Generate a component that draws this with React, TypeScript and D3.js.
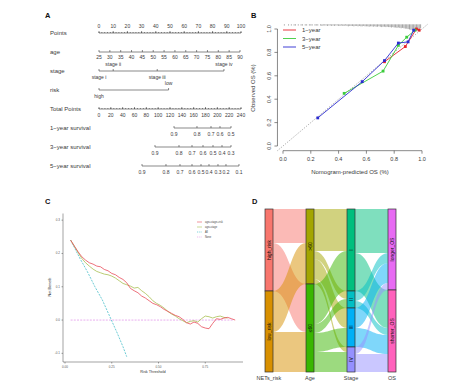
import React, { useEffect, useRef } from 'react';
import * as d3 from 'd3';

// ---------- A: nomogram ----------
const nomoRows = ['Points', 'age', 'stage', 'risk', 'Total Points', '1\u2212year survival', '3\u2212year survival', '5\u2212year survival'];
const pointTicks = [0, 10, 20, 30, 40, 50, 60, 70, 80, 90, 100];
const ageTicks = [25, 30, 35, 40, 45, 50, 55, 60, 65, 70, 75, 80, 85, 90];
const stageLevels = ['stage i', 'stage ii', 'stage iii', 'stage iv'];
const stagePoints = [0, 10, 41, 88];
const riskLevels = ['high', 'low'];
const riskPoints = [0, 49];
const totalTicks = [0, 20, 40, 60, 80, 100, 120, 140, 160, 180, 200, 220, 240];
const surv1Labels = ['0.9', '0.8', '0.7', '0.6', '0.5'];
const surv1Total = [126.8, 165.6, 189.3, 204.5, 223.1];
const surv3Labels = ['0.9', '0.8', '0.7', '0.6', '0.5', '0.4', '0.3'];
const surv3Total = [94.6, 135.2, 157.2, 175.8, 192.7, 207.9, 223.1];
const surv5Labels = ['0.9', '0.8', '0.7', '0.6', '0.5', '0.4', '0.3', '0.2', '0.1'];
const surv5Total = [72.7, 113.2, 136.9, 157.2, 172.4, 185.9, 201.1, 214.6, 236.6];

// ---------- B: calibration ----------
const calTicks = [0, 0.2, 0.4, 0.6, 0.8, 1.0];
const cal1Pred = [0.73, 0.88, 0.96, 0.98];
const cal1Obs = [0.72, 0.85, 1.0, 0.99];
const cal3Pred = [0.44, 0.72, 0.83, 0.89, 0.95];
const cal3Obs = [0.45, 0.64, 0.86, 0.93, 0.99];
const cal5Pred = [0.25, 0.57, 0.73, 0.83, 0.9, 0.94];
const cal5Obs = [0.24, 0.55, 0.73, 0.88, 0.89, 0.99];
const calLegend = ['1\u2212year', '3\u2212year', '5\u2212year'];
// counts of predictions per 0.01 bin, 0.01 .. 0.99
const rugCounts = [
  1, 0, 0, 1, 0, 1, 0, 1, 1, 0, 1, 0, 1, 1, 0, 1, 1, 0, 1, 1,
  1, 0, 1, 1, 1, 0, 1, 2, 1, 1, 1, 2, 1, 1, 2, 1, 2, 1, 1, 2,
  2, 1, 2, 2, 1, 2, 3, 2, 2, 2, 3, 2, 2, 3, 2, 3, 3, 2, 3, 3,
  3, 4, 3, 3, 4, 3, 4, 4, 3, 4, 5, 4, 4, 5, 4, 5, 5, 6, 5, 6,
  6, 7, 6, 7, 8, 7, 8, 9, 9, 10, 11, 12, 12, 13, 14, 14, 13, 11, 8];

// ---------- C: decision curve ----------
const dcaYTicks = [-0.1, 0.0, 0.1, 0.2, 0.3];
const dcaXTicks = [0, 0.25, 0.5, 0.75];
const dcaThreshold = [0.03, 0.05, 0.07, 0.09, 0.11, 0.13, 0.15, 0.17, 0.19, 0.21, 0.23, 0.25, 0.27, 0.29, 0.31, 0.33, 0.35, 0.37, 0.39, 0.41, 0.43, 0.45, 0.47, 0.49, 0.51, 0.53, 0.55, 0.57, 0.59, 0.61, 0.63, 0.65, 0.67, 0.69, 0.71, 0.73, 0.75, 0.77, 0.79, 0.81, 0.83, 0.85, 0.87, 0.89, 0.91];
const nbFull = [0.24, 0.222, 0.205, 0.19, 0.18, 0.172, 0.168, 0.162, 0.16, 0.152, 0.148, 0.14, 0.136, 0.128, 0.122, 0.112, 0.095, 0.088, 0.082, 0.072, 0.066, 0.058, 0.05, 0.046, 0.04, 0.032, 0.026, 0.02, 0.014, 0.01, 0.002, -0.008, -0.012, -0.006, -0.01, -0.02, -0.024, -0.026, -0.01, 0.004, 0.002, 0.006, 0.008, 0.004, 0.0];
const nbAgeStage = [0.24, 0.222, 0.203, 0.185, 0.172, 0.162, 0.153, 0.146, 0.142, 0.138, 0.136, 0.132, 0.126, 0.118, 0.11, 0.106, 0.102, 0.096, 0.098, 0.088, 0.08, 0.07, 0.058, 0.05, 0.044, 0.036, 0.026, 0.018, 0.012, 0.004, -0.002, -0.008, -0.004, -0.002, -0.006, 0.004, 0.012, 0.01, 0.006, 0.01, 0.012, 0.008, 0.006];
const allThreshold = [0.03, 0.08, 0.12, 0.16, 0.2, 0.24, 0.28, 0.31, 0.33];
const nbAll = [0.24, 0.185, 0.145, 0.1, 0.06, 0.01, -0.04, -0.08, -0.11];
const noneThreshold = [0.03, 0.9];
const nbNone = [0, 0];
const dcaLegend = ['age+stage+risk', 'age+stage', 'All', 'None'];

// ---------- D: alluvial ----------
const alluvAxes = ['NETs_risk', 'Age', 'Stage', 'OS'];
const alluvStrata = [['high_risk', 'low_risk'], ['>60', '\u226460'], ['I', 'II', 'III', 'IV'], ['longer_OS', 'shorter_OS']];
const flowRiskAge: [string, string, number][] = [['high_risk', '>60', 34], ['high_risk', '\u226460', 48], ['low_risk', '>60', 41], ['low_risk', '\u226460', 40]];
const flowAgeStage: [string, string, number][] = [['>60', 'I', 42], ['>60', 'II', 8], ['>60', 'III', 20], ['>60', 'IV', 5], ['\u226460', 'I', 40], ['\u226460', 'II', 9], ['\u226460', 'III', 19], ['\u226460', 'IV', 20]];
const flowStageOS: [string, string, number][] = [['I', 'longer_OS', 44], ['I', 'shorter_OS', 38], ['II', 'longer_OS', 10], ['II', 'shorter_OS', 7], ['III', 'longer_OS', 20], ['III', 'shorter_OS', 19], ['IV', 'longer_OS', 7], ['IV', 'shorter_OS', 18]];
const strataColors = ['#F8766D', '#D89000', '#A3A500', '#39B600', '#00BF7D', '#00BFC4', '#00B0F6', '#9590FF', '#E76BF3', '#FF62BC'];

const FONT = '"Liberation Sans", Arial, sans-serif';
const INK = '#3a3a3a';

const App = () => {
  const ref = useRef<SVGSVGElement>(null);

  useEffect(() => {
    const svg = d3.select(ref.current);
    svg.selectAll('*').remove();
    svg.attr('font-family', FONT);

    const txt = (g, x, y, s, size, anchor = 'start', extra = {}) => {
      const t = g.append('text').attr('x', x).attr('y', y).attr('font-size', size)
        .attr('text-anchor', anchor).attr('fill', INK).text(s);
      Object.entries(extra).forEach(([k, v]) => t.attr(k, v));
      return t;
    };

    // panel letters
    [['A', 45, 18], ['B', 251, 18], ['C', 45, 204], ['D', 252, 204]].forEach(([l, x, y]) =>
      txt(svg, x, y, l, 7.5, 'start', { 'font-weight': 'bold', fill: '#111' }));

    // ================= A =================
    const gA = svg.append('g').attr('stroke-width', 0.6);
    const rowY = [33, 52, 71, 90, 109, 128, 147, 166];
    nomoRows.forEach((r, i) => txt(gA, 50, rowY[i] + 2, r, 6));
    const xp = d3.scaleLinear().domain([0, 100]).range([99, 241]);
    const xa = d3.scaleLinear().domain([25, 90]).range([99, 240]);
    const xt = d3.scaleLinear().domain([0, 240]).range([99, 241]);
    const hline = (x1, x2, y) => gA.append('line').attr('x1', x1).attr('x2', x2).attr('y1', y).attr('y2', y).attr('stroke', INK);
    const vtick = (x, y, len) => gA.append('line').attr('x1', x).attr('x2', x).attr('y1', y).attr('y2', y - len).attr('stroke', INK);

    // Points
    hline(xp(0), xp(100), rowY[0]);
    d3.range(0, 101, 2).forEach(v => vtick(xp(v), rowY[0], 1));
    pointTicks.forEach(v => { vtick(xp(v), rowY[0], 2); txt(gA, xp(v), rowY[0] - 5, String(v), 5, 'middle'); });
    // age
    hline(xa(25), xa(90), rowY[1]);
    ageTicks.forEach(v => { vtick(xa(v), rowY[1], 2); txt(gA, xa(v), rowY[1] + 7, String(v), 5, 'middle'); });
    // stage
    hline(xp(0), xp(d3.max(stagePoints)), rowY[2]);
    stageLevels.forEach((s, i) => {
      vtick(xp(stagePoints[i]), rowY[2], 2);
      txt(gA, xp(stagePoints[i]), i % 2 ? rowY[2] - 5 : rowY[2] + 8, s, 5, 'middle');
    });
    // risk
    hline(xp(0), xp(d3.max(riskPoints)), rowY[3]);
    riskLevels.forEach((s, i) => {
      vtick(xp(riskPoints[i]), rowY[3], 2);
      txt(gA, xp(riskPoints[i]), i % 2 ? rowY[3] - 5 : rowY[3] + 8, s, 5, 'middle');
    });
    // total points
    hline(xt(0), xt(240), rowY[4]);
    d3.range(0, 241, 5).forEach(v => vtick(xt(v), rowY[4], 1));
    totalTicks.forEach(v => { vtick(xt(v), rowY[4], 2); txt(gA, xt(v), rowY[4] + 8, String(v), 5, 'middle'); });
    // survival rows
    [[surv1Labels, surv1Total], [surv3Labels, surv3Total], [surv5Labels, surv5Total]].forEach(([labs, tot], k) => {
      const y = rowY[5 + k];
      hline(xt(d3.min(tot)), xt(d3.max(tot)), y);
      tot.forEach((v, i) => { vtick(xt(v), y, 2); txt(gA, xt(v), y + 7.5, labs[i], 5, 'middle'); });
    });

    // ================= B =================
    const gB = svg.append('g');
    const xB = d3.scaleLinear().domain([0, 1]).range([283, 422]);
    const yB = d3.scaleLinear().domain([0, 1]).range([146, 29]);
    const left = xB(-0.04), bottom = yB(-0.04), top = yB(1.04);
    gB.append('line').attr('x1', left).attr('x2', left).attr('y1', yB(0)).attr('y2', yB(1)).attr('stroke', INK).attr('stroke-width', 0.6);
    gB.append('line').attr('x1', xB(0)).attr('x2', xB(1)).attr('y1', bottom).attr('y2', bottom).attr('stroke', INK).attr('stroke-width', 0.6);
    calTicks.forEach(v => {
      gB.append('line').attr('x1', left).attr('x2', left - 3).attr('y1', yB(v)).attr('y2', yB(v)).attr('stroke', INK).attr('stroke-width', 0.6);
      txt(gB, left - 6, yB(v), v.toFixed(1), 5.5, 'middle', { transform: `rotate(-90 ${left - 6} ${yB(v)})` });
      gB.append('line').attr('x1', xB(v)).attr('x2', xB(v)).attr('y1', bottom).attr('y2', bottom + 3).attr('stroke', INK).attr('stroke-width', 0.6);
      txt(gB, xB(v), bottom + 10, v.toFixed(1), 5.5, 'middle');
    });
    txt(gB, 350, 174, 'Nomogram-predicted OS (%)', 6, 'middle');
    txt(gB, 255, 88, 'Observed OS (%)', 6, 'middle', { transform: 'rotate(-90 255 88)' });
    // ideal line
    gB.append('line').attr('x1', xB(-0.04)).attr('y1', yB(-0.04)).attr('x2', xB(1.04)).attr('y2', yB(1.04))
      .attr('stroke', '#777').attr('stroke-width', 0.7).attr('stroke-dasharray', '1,1.5');
    // rug histogram of predictions along the top
    const rugH = d3.scaleLinear().domain([0, d3.max(rugCounts)]).range([0, 5.5]);
    rugCounts.forEach((c, i) => {
      if (!c) return;
      const xv = xB(0.01 + i * 0.01);
      gB.append('line').attr('x1', xv).attr('x2', xv).attr('y1', top).attr('y2', top + 0.8 + rugH(c))
        .attr('stroke', '#555').attr('stroke-width', 0.55);
    });
    const calCols = ['#e8222a', '#3ccc3c', '#2b2bd0'];
    [[cal1Pred, cal1Obs], [cal3Pred, cal3Obs], [cal5Pred, cal5Obs]].forEach(([p, o], k) => {
      const pts = p.map((v, i) => [xB(v), yB(o[i])]);
      gB.append('path').attr('d', d3.line()(pts)).attr('fill', 'none').attr('stroke', calCols[k]).attr('stroke-width', 0.9);
      pts.forEach(([x, y]) => gB.append('rect').attr('x', x - 1.4).attr('y', y - 1.4).attr('width', 2.8).attr('height', 2.8).attr('fill', calCols[k]));
    });
    calLegend.forEach((s, i) => {
      const y = 30 + i * 8.5;
      gB.append('line').attr('x1', 283).attr('x2', 296).attr('y1', y).attr('y2', y).attr('stroke', calCols[i]).attr('stroke-width', 0.9);
      txt(gB, 302, y + 2, s, 6);
    });

    // ================= C =================
    const gC = svg.append('g');
    const xC = d3.scaleLinear().domain([0, 1]).range([65, 252]);
    const yC = d3.scaleLinear().domain([-0.126, 0.32]).range([362, 213.5]);
    gC.append('line').attr('x1', 63).attr('x2', 63).attr('y1', yC(0.32)).attr('y2', 362).attr('stroke', '#444').attr('stroke-width', 0.5);
    gC.append('line').attr('x1', 63).attr('x2', 243).attr('y1', 362).attr('y2', 362).attr('stroke', '#444').attr('stroke-width', 0.5);
    dcaYTicks.forEach(v => {
      gC.append('line').attr('x1', 61.5).attr('x2', 63).attr('y1', yC(v)).attr('y2', yC(v)).attr('stroke', '#444').attr('stroke-width', 0.5);
      txt(gC, 60, yC(v) + 1, v.toFixed(1), 3, 'end', { fill: '#555' });
    });
    dcaXTicks.forEach(v => {
      gC.append('line').attr('x1', xC(v)).attr('x2', xC(v)).attr('y1', 362).attr('y2', 363.5).attr('stroke', '#444').attr('stroke-width', 0.5);
      txt(gC, xC(v), 367.5, v.toFixed(2), 3, 'middle', { fill: '#555' });
    });
    txt(gC, 153, 373, 'Risk Threshold', 3.8, 'middle', { fill: '#333' });
    txt(gC, 51, 287, 'Net Benefit', 3.8, 'middle', { transform: 'rotate(-90 51 287)', fill: '#333' });
    const dcaCols = ['#e84d5b', '#a8bf52', '#2cb5c2', '#e08de8'];
    const dcaDash = [null, null, '2,1.2', '2,1.2'];
    const ln = d3.line<number[]>().x(d => xC(d[0])).y(d => yC(d[1]));
    [[noneThreshold, nbNone], [allThreshold, nbAll], [dcaThreshold, nbAgeStage], [dcaThreshold, nbFull]].forEach(([xs, ys], k) => {
      const idx = [3, 2, 1, 0][k];
      const pts = ys.map((v, i) => [xs[i], v]);
      const p = gC.append('path').attr('d', ln(pts)).attr('fill', 'none').attr('stroke', dcaCols[idx]).attr('stroke-width', idx < 2 ? 0.8 : 0.7);
      if (dcaDash[idx]) p.attr('stroke-dasharray', dcaDash[idx]);
    });
    dcaLegend.forEach((s, i) => {
      const y = 222 + i * 5;
      const l = gC.append('line').attr('x1', 197).attr('x2', 202).attr('y1', y).attr('y2', y).attr('stroke', dcaCols[i]).attr('stroke-width', 0.6);
      if (dcaDash[i]) l.attr('stroke-dasharray', '1,0.8');
      txt(gC, 205, y + 1, s, 2.6, 'start', { fill: '#444' });
    });

    // ================= D =================
    const gD = svg.append('g');
    const xD = d3.scalePoint().domain(alluvAxes).range([269, 392]);
    const total = d3.sum(flowRiskAge, d => d[2]);
    const yD = d3.scaleLinear().domain([0, total]).range([209, 372]);
    const bw = 8;
    const allStrata = alluvStrata.flat();
    const color = d3.scaleOrdinal<string, string>().domain(allStrata).range(strataColors);
    const flowsets = [flowRiskAge, flowAgeStage, flowStageOS];
    // stratum sizes
    const size = (axis, s) => axis < 3
      ? d3.sum(flowsets[axis].filter(f => f[0] === s), f => f[2])
      : d3.sum(flowsets[2].filter(f => f[1] === s), f => f[2]);
    const start = {};
    alluvStrata.forEach((list, a) => {
      let acc = 0;
      list.forEach(s => { start[a + s] = acc; acc += size(a, s); });
    });
    // flows
    flowsets.forEach((flows, a) => {
      const L = alluvStrata[a], R = alluvStrata[a + 1];
      const x0 = xD(alluvAxes[a]) + bw / 2, x1 = xD(alluvAxes[a + 1]) - bw / 2, xm = (x0 + x1) / 2;
      const offL = {}, offR = {};
      const byLeft = [...flows].sort((p, q) => L.indexOf(p[0]) - L.indexOf(q[0]) || R.indexOf(p[1]) - R.indexOf(q[1]));
      const byRight = [...flows].sort((p, q) => R.indexOf(p[1]) - R.indexOf(q[1]) || L.indexOf(p[0]) - L.indexOf(q[0]));
      L.forEach(s => { offL[s] = start[a + s]; });
      R.forEach(s => { offR[s] = start[a + 1 + s]; });
      const pos = new Map();
      byLeft.forEach(f => { pos.set(f, { l: offL[f[0]] }); offL[f[0]] += f[2]; });
      byRight.forEach(f => { pos.get(f).r = offR[f[1]]; offR[f[1]] += f[2]; });
      flows.forEach(f => {
        const { l, r } = pos.get(f);
        const y0a = yD(l), y0b = yD(l + f[2]), y1a = yD(r), y1b = yD(r + f[2]);
        const d = `M${x0},${y0a}C${xm},${y0a} ${xm},${y1a} ${x1},${y1a}L${x1},${y1b}C${xm},${y1b} ${xm},${y0b} ${x0},${y0b}Z`;
        gD.append('path').attr('d', d).attr('fill', color(f[0])).attr('fill-opacity', 0.5).attr('stroke', 'none');
      });
    });
    // strata
    alluvStrata.forEach((list, a) => {
      const cx = xD(alluvAxes[a]);
      list.forEach(s => {
        const y0 = yD(start[a + s]), y1 = yD(start[a + s] + size(a, s));
        gD.append('rect').attr('x', cx - bw / 2).attr('y', y0).attr('width', bw).attr('height', y1 - y0)
          .attr('fill', color(s)).attr('stroke', '#333').attr('stroke-width', 0.7);
        const cy = (y0 + y1) / 2;
        txt(gD, cx + 1.8, cy, s, 5, 'middle', { transform: `rotate(-90 ${cx + 1.8} ${cy})`, fill: '#111' });
      });
      txt(gD, cx, 380, alluvAxes[a], 5.5, 'middle');
    });
  }, []);

  return (
    <div style={{ position: 'fixed', left: 0, top: 0, width: 474, height: 387, background: '#fff' }}>
      <svg ref={ref} width={474} height={387} />
    </div>
  );
};

export default App;
